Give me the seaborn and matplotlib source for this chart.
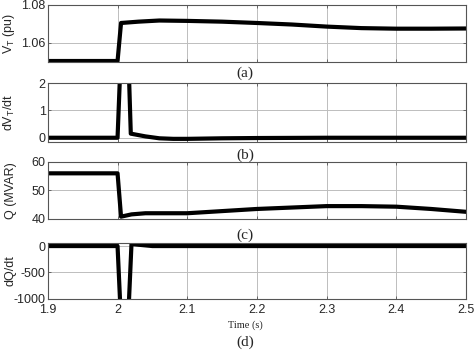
import pandas as pd
import matplotlib
matplotlib.use("Agg")
import matplotlib.pyplot as plt
import seaborn as sns

# terminal voltage (pu)
t_v = [1.9, 2.0, 2.005, 2.03, 2.06, 2.1, 2.15, 2.2, 2.25, 2.3, 2.35, 2.4, 2.45, 2.5]
v_t = [1.0505, 1.0505, 1.0705, 1.0712, 1.0718, 1.0716, 1.0712, 1.0705, 1.0697,
       1.0686, 1.0678, 1.0675, 1.0675, 1.0676]

# dV_T/dt
t_dv = [1.9, 2.0, 2.004, 2.016, 2.019, 2.04, 2.06, 2.08, 2.1, 2.15, 2.2, 2.3, 2.4, 2.5]
dv_dt = [0, 0, 2.6, 2.6, 0.15, 0.05, -0.02, -0.04, -0.04, -0.02, -0.01, 0, 0, 0]

# reactive power Q (MVAR)
t_q = [1.9, 2.0, 2.005, 2.02, 2.04, 2.1, 2.2, 2.3, 2.35, 2.4, 2.45, 2.5]
q = [56, 56, 40.8, 41.6, 42, 42, 43.5, 44.5, 44.5, 44.3, 43.5, 42.5]

# dQ/dt
t_dq = [1.9, 2.0, 2.004, 2.016, 2.02, 2.03, 2.05, 2.1, 2.5]
dq_dt = [0, 0, -1150, -1150, 40, 25, 0, 0, 0]

x_ticks = [1.9, 2.0, 2.1, 2.2, 2.3, 2.4, 2.5]
x_labels = ["1.9", "2", "2.1", "2.2", "2.3", "2.4", "2.5"]

sns.set_style("ticks")
plt.rcParams["font.family"] = ["Liberation Sans", "DejaVu Sans"]

fig = plt.figure(figsize=(4.74, 3.52), dpi=100)

panels = [
    (t_v, v_t, (1.05, 1.08), [1.06, 1.08], ["1.06", "1.08"], r"$\mathregular{V_T}$ (pu)", "(a)",
     [0.101, 0.824, 0.882, 0.162], 0.793),
    (t_dv, dv_dt, (-0.15, 2.0), [0, 1, 2], ["0", "1", "2"], r"d$\mathregular{V_T}$/dt", "(b)",
     [0.101, 0.597, 0.882, 0.167], 0.560),
    (t_q, q, (40, 60), [40, 50, 60], ["40", "50", "60"], "Q (MVAR)", "(c)",
     [0.101, 0.378, 0.882, 0.162], 0.332),
    (t_dq, dq_dt, (-1000, 60), [-1000, -500, 0], ["-1000", "-500", "0"], "dQ/dt", "(d)",
     [0.101, 0.151, 0.882, 0.159], 0.028),
]

for i, (tx, ty, ylim, yt, ytl, ylab, tag, pos, tag_y) in enumerate(panels):
    ax = fig.add_axes(pos)
    df = pd.DataFrame({"t": tx, "y": ty})
    ax.grid(True, color="#bdbdbd", lw=0.7)
    ax.set_axisbelow(True)
    sns.lineplot(data=df, x="t", y="y", ax=ax, color="black", lw=3.0)
    ax.set_xlim(1.9, 2.5)
    ax.set_ylim(*ylim)
    ax.set_xticks(x_ticks)
    ax.set_yticks(yt)
    ax.set_yticklabels(ytl)
    ax.tick_params(direction="in", length=2.5, width=0.6, top=True, right=True,
                   labelsize=9, pad=1.5, color="#555555")
    ax.tick_params(axis="x", pad=4)
    for s in ax.spines.values():
        s.set_linewidth(0.8)
        s.set_color("#555555")
    ax.set_ylabel(ylab, fontsize=9)
    ax.yaxis.set_label_coords(-0.075, 0.5)
    fig.text(0.517, tag_y, tag, ha="center", va="center", fontsize=11,
             family="Liberation Serif")
    if i < 3:
        ax.set_xticklabels([])
        ax.set_xlabel("")
    else:
        ax.set_xticklabels(x_labels)
        ax.set_xlabel("")
        fig.text(0.517, 0.077, "Time (s)", ha="center", va="center", fontsize=7.5,
                 family="Liberation Serif")

fig.savefig("out.png", dpi=100)
